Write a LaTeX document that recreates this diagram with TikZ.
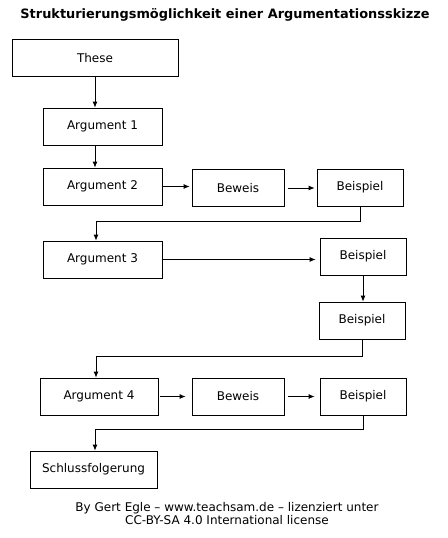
\documentclass[tikz,border=0pt]{standalone}
\usepackage{fontspec}
\setmainfont{DejaVu Sans}
\usepackage{tikz}
\usetikzlibrary{arrows.meta}
\tikzstyle{kasten} = [draw, line width=0.8pt, rectangle, minimum height=37pt, inner sep=0pt, font=\fontsize{12}{14}\selectfont]
\tikzstyle{pfeil} = [line width=0.8pt, -{Latex[length=6pt,width=5pt]}]
\tikzstyle{titel} = [font=\fontsize{12.9}{15}\selectfont\bfseries]

\begin{document}
\begin{tikzpicture}[x=1pt,y=-1pt]
	\useasboundingbox (0,0) rectangle (447,538);
	\node[titel](titel) at (225,15) {Strukturierungsmöglichkeit einer Argumentationsskizze};
	% linke Spalte
	\node[kasten, minimum width=166pt](these) at (95,58) {These};
	\node[kasten, minimum width=119pt](arg1) at (102.5,126.5) {Argument 1};
	\node[kasten, minimum width=119pt](arg2) at (102.5,186.5) {Argument 2};
	\node[kasten, minimum width=119pt](arg3) at (102.5,259.5) {Argument 3};
	\node[kasten, minimum width=118pt](arg4) at (99,396.5) {Argument 4};
	\node[kasten, minimum width=127pt](schluss) at (93.5,469.5) {Schlussfolgerung};
	% Beweise und Beispiele
	\node[kasten, minimum width=92pt](beweis2) at (238,188) {Beweis};
	\node[kasten, minimum width=86pt](beispiel2) at (360,187.5) {Beispiel};
	\node[kasten, minimum width=86pt](beispiel3) at (363,256.5) {Beispiel};
	\node[kasten, minimum width=86pt](beispiel3b) at (362,320.5) {Beispiel};
	\node[kasten, minimum width=92pt](beweis4) at (238,396.5) {Beweis};
	\node[kasten, minimum width=86pt](beispiel4) at (363,396.5) {Beispiel};
	\coordinate (k1) at (96,221);
	\coordinate (k2) at (96,356);
	\coordinate (k3) at (95,429);
	% Pfeile
	\draw[pfeil] (these.south) -- (these.south |- arg1.north);
	\draw[pfeil] (these.south |- arg1.south) -- (these.south |- arg2.north);
	\draw[pfeil, shorten <=1pt, shorten >=2pt] (arg2.east) -- (arg2.east -| beweis2.west);
	\draw[pfeil, shorten <=4pt, shorten >=2pt] (beweis2.east) -- (beweis2.east -| beispiel2.west);
	\draw[pfeil] (beispiel2.south) |- (k1) -- (k1 |- arg3.north);
	\draw[pfeil, shorten <=1pt, shorten >=4pt] (arg3.east) -- (arg3.east -| beispiel3.west);
	\draw[pfeil] (beispiel3.south) -- (beispiel3.south |- beispiel3b.north);
	\draw[pfeil] (beispiel3b.south) |- (k2) -- (k2 |- arg4.north);
	\draw[pfeil, shorten <=2pt, shorten >=6pt] (arg4.east) -- (arg4.east -| beweis4.west);
	\draw[pfeil, shorten <=4pt, shorten >=5pt] (beweis4.east) -- (beweis4.east -| beispiel4.west);
	\draw[pfeil] (beispiel4.south) |- (k3) -- (k3 |- schluss.north);
	% Fusszeile
	\node[align=center, font=\fontsize{12}{13}\selectfont](fuss) at (227,514) {By Gert Egle -- www.teachsam.de -- lizenziert unter\\CC-BY-SA 4.0 International license};
\end{tikzpicture}
\end{document}
